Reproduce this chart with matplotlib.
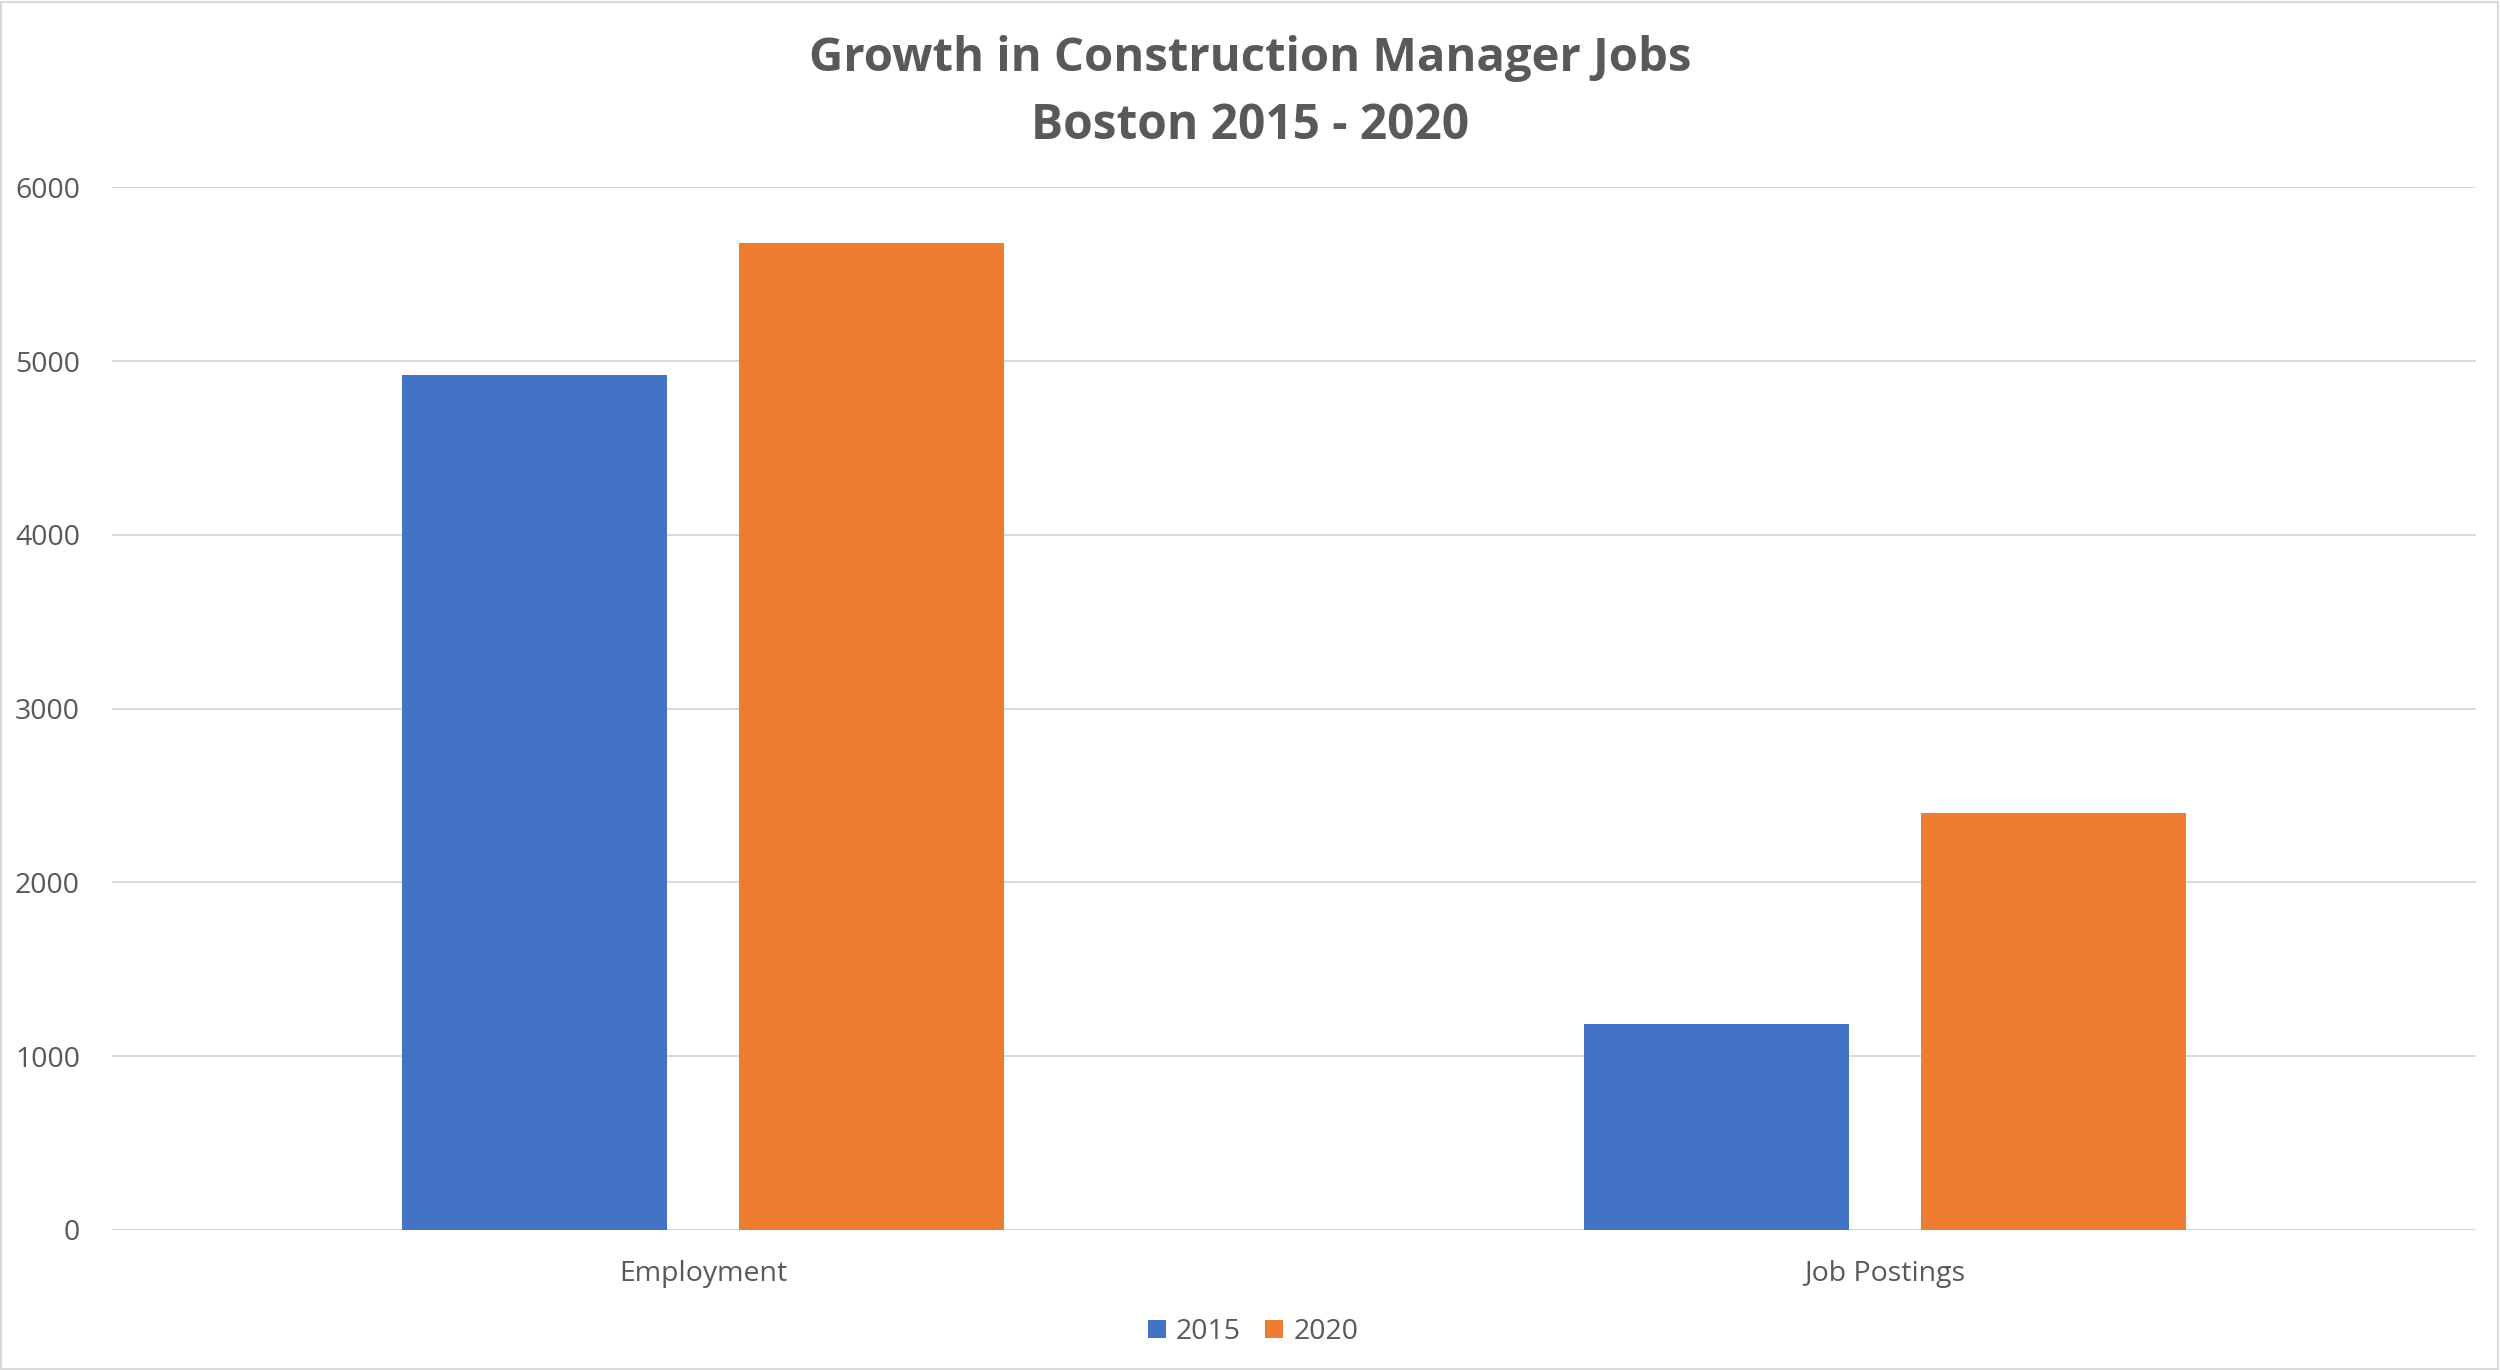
import matplotlib
matplotlib.use("Agg")
import matplotlib.pyplot as plt
from matplotlib.patches import Rectangle, Patch
import numpy as np

categories = ["Employment", "Job Postings"]
series_names = ["2015", "2020"]
values_2015 = [4920, 1185]
values_2020 = [5680, 2400]
y_ticks = [0, 1000, 2000, 3000, 4000, 5000, 6000]

BLUE = "#4472C4"
ORANGE = "#ED7D31"
TEXT = "#595959"
GRID = "#D9D9D9"

plt.rcParams["font.family"] = ["Open Sans", "DejaVu Sans"]

fig = plt.figure(figsize=(25, 13.7), dpi=100)
ax = fig.add_axes([112 / 2500, 1 - 1230 / 1370, (2476 - 112) / 2500, (1230 - 187.3) / 1370])

x = np.arange(len(categories))
width = 0.2243
offset = 0.1426
ax.bar(x - offset, values_2015, width, color=BLUE, label=series_names[0], zorder=3)
ax.bar(x + offset, values_2020, width, color=ORANGE, label=series_names[1], zorder=3)

ax.set_xlim(-0.5, len(categories) - 0.5)
ax.set_ylim(0, 6000)
ax.set_yticks(y_ticks)
ax.set_yticklabels([str(t) for t in y_ticks])
ax.set_xticks(x)
ax.set_xticklabels(categories)

ax.yaxis.grid(True, color=GRID, linewidth=1.4, zorder=0)
ax.set_axisbelow(True)
for s in ax.spines.values():
    s.set_visible(False)
ax.tick_params(axis="y", length=0, pad=23, labelsize=20.5, labelcolor=TEXT)
ax.tick_params(axis="x", length=0, pad=21.5, labelsize=20.5, labelcolor=TEXT)

fig.text(0.5, 1 - 70.7 / 1370, "Growth in Construction Manager Jobs", ha="center", va="baseline",
         fontsize=34, fontweight="bold", color=TEXT)
fig.text(0.5, 1 - 139.3 / 1370, "Boston 2015 - 2020", ha="center", va="baseline",
         fontsize=34.5, fontweight="bold", color=TEXT)

handles = [Patch(facecolor=BLUE, edgecolor="none"), Patch(facecolor=ORANGE, edgecolor="none")]
leg = fig.legend(handles, series_names, loc="center", bbox_to_anchor=(1253 / 2500, 1 - 1332 / 1370),
                 ncol=2, frameon=False, fontsize=20.5, handlelength=0.62, handleheight=0.62,
                 handletextpad=0.36, columnspacing=0.86, borderpad=0, borderaxespad=0)
for t in leg.get_texts():
    t.set_color(TEXT)

fig.patches.append(Rectangle((1.5 / 2500, 1.5 / 1370), 1 - 3.5 / 2500, 1 - 3.5 / 1370,
                             transform=fig.transFigure, fill=False, edgecolor=GRID, linewidth=1.5))

fig.savefig("out.png", dpi=100, facecolor="white")
